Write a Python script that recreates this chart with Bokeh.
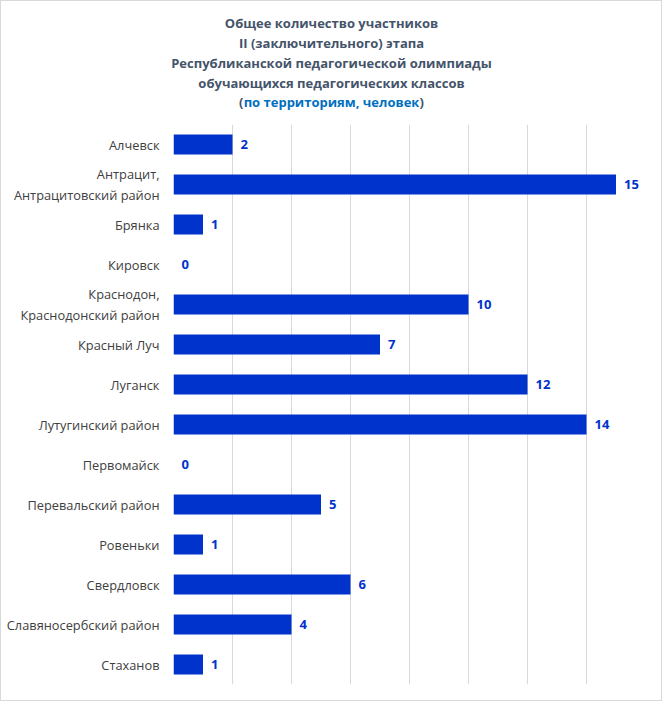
from bokeh.plotting import figure
from bokeh.models import ColumnDataSource, FactorRange, Range1d, LabelSet, FixedTicker
from bokeh.layouts import column
from bokeh.core.properties import value
from bokeh.embed import file_html
from bokeh.resources import INLINE

categories = ["Алчевск", "Антрацит,\nАнтрацитовский район", "Брянка", "Кировск",
              "Краснодон,\nКраснодонский район", "Красный Луч", "Луганск",
              "Лутугинский район", "Первомайск", "Перевальский район", "Ровеньки",
              "Свердловск", "Славяносербский район", "Стаханов"]
values = [2, 15, 1, 0, 10, 7, 12, 14, 0, 5, 1, 6, 4, 1]
x_ticks = [0, 2, 4, 6, 8, 10, 12, 14, 16]
title_lines = ["Общее количество участников",
               "II (заключительного) этапа",
               "Республиканской педагогической олимпиады",
               "обучающихся педагогических классов"]
title_sub = "по территориям, человек"

FONT = "Open Sans"
BAR = "#0033CC"
TITLE_C = "#44546A"
SUB_C = "#0070C0"

W = 660
TH = 123
ML, MR = 172, 16

# ---- title figure ----
t = figure(width=W, height=TH, output_backend="svg", toolbar_location=None,
           x_range=Range1d(0, W), y_range=Range1d(0, TH),
           min_border_left=0, min_border_right=0, min_border_top=0, min_border_bottom=0)
t.axis.visible = False
t.grid.visible = False
t.outline_line_color = None
cx = 330
line_y = [21, 41, 61, 81]
t.text(x=[cx] * len(title_lines), y=[TH - v for v in line_y], text=title_lines,
       text_align="center", text_baseline="middle", text_font=value(FONT),
       text_font_size="13px", text_font_style="bold", text_color=TITLE_C)
y5 = TH - 100
half = 88
t.text(x=[cx], y=[y5], text=[title_sub], text_align="center", text_baseline="middle",
       text_font=value(FONT), text_font_size="13px", text_font_style="bold", text_color=SUB_C)
t.text(x=[cx - half], y=[y5], text=["("], text_align="right", text_baseline="middle",
       text_font=value(FONT), text_font_size="13px", text_font_style="bold", text_color=TITLE_C)
t.text(x=[cx + half], y=[y5], text=[")"], text_align="left", text_baseline="middle",
       text_font=value(FONT), text_font_size="13px", text_font_style="bold", text_color=TITLE_C)

# ---- main chart ----
src = ColumnDataSource(dict(cat=categories, val=values, lbl=[str(v) for v in values]))

p = figure(width=W, height=576, output_backend="svg", toolbar_location=None,
           y_range=FactorRange(factors=list(reversed(categories))),
           x_range=Range1d(0, 16),
           min_border_left=ML, min_border_right=MR, min_border_top=0, min_border_bottom=16)
p.outline_line_color = None
p.xaxis.visible = False
p.ygrid.visible = False
p.xgrid.ticker = FixedTicker(ticks=x_ticks)
p.xgrid.grid_line_color = "#D9D9D9"

yax = p.yaxis[0]
yax.axis_line_color = None
yax.major_tick_line_color = None
yax.minor_tick_line_color = None
yax.major_tick_out = 0
yax.major_tick_in = 0
yax.major_label_standoff = 14
yax.major_label_text_font = FONT
yax.major_label_text_font_size = "12.8px"
yax.major_label_text_color = "#404040"

p.hbar(y="cat", right="val", left=0, height=0.5, source=src, fill_color=BAR, line_color=None)

p.add_layout(LabelSet(x="val", y="cat", text="lbl", source=src, x_offset=8,
                      text_baseline="middle", text_font=value(FONT), text_font_size="13px",
                      text_font_style="bold", text_color=BAR))

layout = column(column(t), p, spacing=0)
layout.styles = {"border": "1px solid #D9D9D9"}

open("out.html", "w").write(file_html(layout, INLINE))
